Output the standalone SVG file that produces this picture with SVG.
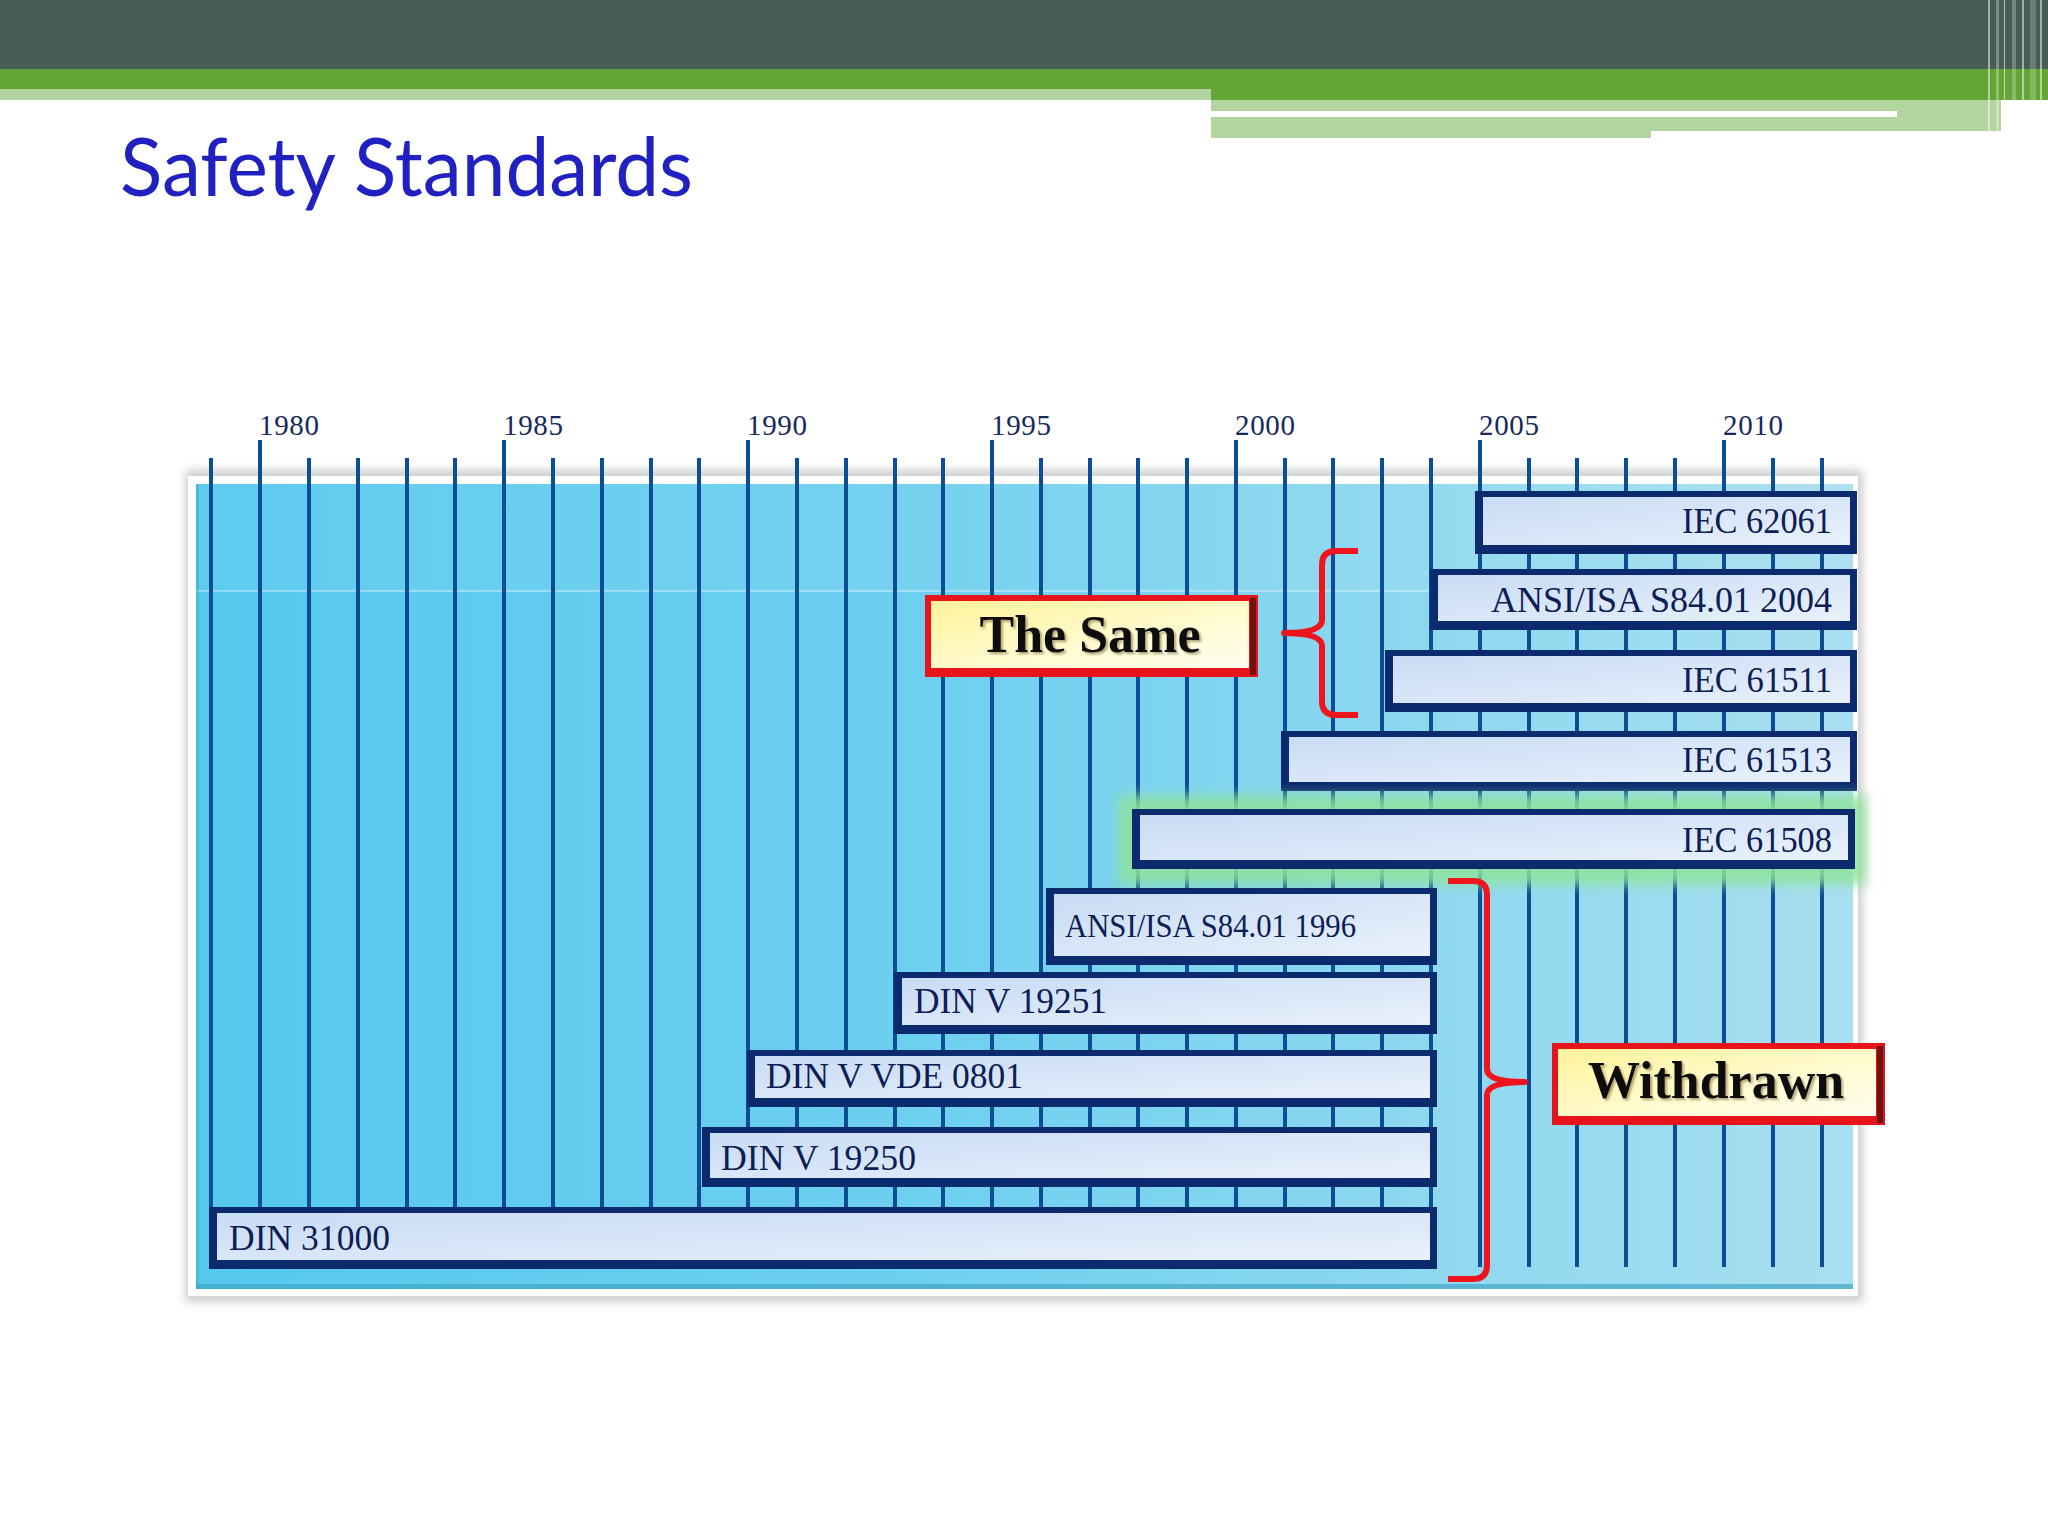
<svg xmlns="http://www.w3.org/2000/svg" width="2048" height="1536" viewBox="0 0 2048 1536">
<defs>
<style>
.yr{font-family:"Liberation Serif","DejaVu Serif",serif;font-size:29px;fill:#16295a}
.lbl{font-family:"Liberation Serif","DejaVu Serif",serif;font-size:35px;fill:#0d1d55}
.lbl2{font-family:"Liberation Serif","DejaVu Serif",serif;font-size:34px;fill:#0d1d55}
.call{font-family:"Liberation Serif","DejaVu Serif",serif;font-weight:bold;font-size:52px;fill:#111}
.tk{stroke:#0d4d94;stroke-width:4}
.bo{fill:#0c2b6e}
.bi{fill:url(#barFill)}
.brace{fill:none;stroke:#f0141c;stroke-width:6;stroke-linejoin:round;stroke-linecap:butt}
</style>
<linearGradient id="panelFill" x1="0" y1="0" x2="1" y2="0">
<stop offset="0" stop-color="#55c8ee"/>
<stop offset="0.45" stop-color="#6fd0ef"/>
<stop offset="1" stop-color="#a9dff0"/>
</linearGradient>
<linearGradient id="barFill" x1="0" y1="0" x2="1" y2="1">
<stop offset="0" stop-color="#c8dcf4"/>
<stop offset="0.6" stop-color="#dce8f9"/>
<stop offset="1" stop-color="#e9f1fc"/>
</linearGradient>
<linearGradient id="callFill" x1="0" y1="0" x2="1" y2="1">
<stop offset="0" stop-color="#fff39a"/>
<stop offset="0.6" stop-color="#fffbd2"/>
<stop offset="1" stop-color="#fffdf0"/>
</linearGradient>
<filter id="blur" x="-10%" y="-30%" width="120%" height="160%"><feGaussianBlur stdDeviation="6"/></filter>
<filter id="shadowBlur" x="-5%" y="-5%" width="110%" height="110%"><feGaussianBlur stdDeviation="4"/></filter>
<filter id="txtShadow" x="-5%" y="-20%" width="115%" height="150%"><feDropShadow dx="2" dy="2" stdDeviation="1" flood-color="#7a6a40" flood-opacity="0.6"/></filter>
</defs>

<g id="header">
<rect x="0" y="0" width="2048" height="69" fill="#465e54"/>
<rect x="0" y="69" width="2048" height="31" fill="#63a536"/>
<rect x="0" y="89" width="1211" height="11" fill="#b2d5a0"/>
<rect x="1211" y="100" width="790" height="38" fill="#b2d5a0"/>
<rect x="1211" y="111" width="686" height="6" fill="#ffffff"/>
<rect x="1651" y="131" width="357" height="7" fill="#ffffff"/>
<rect x="1988" y="0" width="2" height="138" fill="#ffffff" opacity="0.5"/>
<rect x="1996" y="0" width="3" height="138" fill="#ffffff" opacity="0.3"/>
<rect x="2004" y="0" width="1" height="138" fill="#ffffff" opacity="0.6"/>
<rect x="2012" y="0" width="4" height="138" fill="#ffffff" opacity="0.25"/>
<rect x="2022" y="0" width="2" height="138" fill="#ffffff" opacity="0.5"/>
<rect x="2030" y="0" width="6" height="138" fill="#ffffff" opacity="0.2"/>
<rect x="2040" y="0" width="2" height="138" fill="#ffffff" opacity="0.5"/>
</g>

<text id="title" x="120" y="196" font-family="Lato, 'Open Sans', sans-serif" font-size="82" fill="#2121c2" textLength="573" lengthAdjust="spacingAndGlyphs">Safety Standards</text>

<g id="panel">
<rect x="185" y="470" width="1678" height="832" fill="#cfcfcf" filter="url(#shadowBlur)"/>
<rect x="188" y="476" width="1670" height="820" fill="#ffffff"/>
<rect x="196" y="484" width="1657" height="805" fill="url(#panelFill)"/>
<rect x="196" y="484" width="1657" height="107" fill="#ffffff" opacity="0.06"/>
<line x1="196" y1="591" x2="1853" y2="591" stroke="#ffffff" stroke-width="1.5" opacity="0.45"/>
<rect x="196" y="1284" width="1657" height="5" fill="#3fa6c4" opacity="0.7"/>
<rect x="196" y="484" width="3" height="805" fill="#3fa6c4" opacity="0.5"/>
</g>

<g id="axis">
<g class="tk">
<line x1="211" y1="458" x2="211" y2="1267"/>
<line x1="260" y1="440" x2="260" y2="1267"/>
<line x1="309" y1="458" x2="309" y2="1267"/>
<line x1="358" y1="458" x2="358" y2="1267"/>
<line x1="407" y1="458" x2="407" y2="1267"/>
<line x1="455" y1="458" x2="455" y2="1267"/>
<line x1="504" y1="440" x2="504" y2="1267"/>
<line x1="553" y1="458" x2="553" y2="1267"/>
<line x1="602" y1="458" x2="602" y2="1267"/>
<line x1="651" y1="458" x2="651" y2="1267"/>
<line x1="699" y1="458" x2="699" y2="1267"/>
<line x1="748" y1="440" x2="748" y2="1267"/>
<line x1="797" y1="458" x2="797" y2="1267"/>
<line x1="846" y1="458" x2="846" y2="1267"/>
<line x1="895" y1="458" x2="895" y2="1267"/>
<line x1="943" y1="458" x2="943" y2="1267"/>
<line x1="992" y1="440" x2="992" y2="1267"/>
<line x1="1041" y1="458" x2="1041" y2="1267"/>
<line x1="1090" y1="458" x2="1090" y2="1267"/>
<line x1="1138" y1="458" x2="1138" y2="1267"/>
<line x1="1187" y1="458" x2="1187" y2="1267"/>
<line x1="1236" y1="440" x2="1236" y2="1267"/>
<line x1="1285" y1="458" x2="1285" y2="1267"/>
<line x1="1333" y1="458" x2="1333" y2="1267"/>
<line x1="1382" y1="458" x2="1382" y2="1267"/>
<line x1="1431" y1="458" x2="1431" y2="1267"/>
<line x1="1480" y1="440" x2="1480" y2="1267"/>
<line x1="1529" y1="458" x2="1529" y2="1267"/>
<line x1="1577" y1="458" x2="1577" y2="1267"/>
<line x1="1626" y1="458" x2="1626" y2="1267"/>
<line x1="1675" y1="458" x2="1675" y2="1267"/>
<line x1="1724" y1="440" x2="1724" y2="1267"/>
<line x1="1773" y1="458" x2="1773" y2="1267"/>
<line x1="1822" y1="458" x2="1822" y2="1267"/>
</g>
<text class="yr" x="259" y="435" textLength="60">1980</text>
<text class="yr" x="503" y="435" textLength="60">1985</text>
<text class="yr" x="747" y="435" textLength="60">1990</text>
<text class="yr" x="991" y="435" textLength="60">1995</text>
<text class="yr" x="1235" y="435" textLength="60">2000</text>
<text class="yr" x="1479" y="435" textLength="60">2005</text>
<text class="yr" x="1723" y="435" textLength="60">2010</text>
</g>

<g id="iec62061">
<rect class="bo" x="1475" y="491" width="382" height="63"/>
<rect class="bi" x="1483" y="497" width="367" height="48"/>
<text class="lbl" x="1682" y="533" textLength="150" lengthAdjust="spacingAndGlyphs">IEC 62061</text>
</g>
<g id="ansi2004">
<rect class="bo" x="1430" y="569" width="427" height="61"/>
<rect class="bi" x="1438" y="575" width="412" height="46"/>
<text class="lbl" x="1491" y="612" textLength="341" lengthAdjust="spacingAndGlyphs">ANSI/ISA S84.01 2004</text>
</g>
<g id="iec61511">
<rect class="bo" x="1385" y="650" width="472" height="62"/>
<rect class="bi" x="1393" y="656" width="457" height="47"/>
<text class="lbl" x="1682" y="692" textLength="150" lengthAdjust="spacingAndGlyphs">IEC 61511</text>
</g>
<g id="iec61513">
<rect class="bo" x="1281" y="731" width="576" height="60"/>
<rect class="bi" x="1289" y="737" width="561" height="45"/>
<text class="lbl" x="1682" y="772" textLength="150" lengthAdjust="spacingAndGlyphs">IEC 61513</text>
</g>
<g id="iec61508">
<rect x="1118" y="795" width="748" height="90" fill="#8fe39c" opacity="0.85" filter="url(#blur)"/>
<rect class="bo" x="1132" y="809" width="723" height="60"/>
<rect class="bi" x="1140" y="815" width="708" height="45"/>
<text class="lbl" x="1682" y="852" textLength="150" lengthAdjust="spacingAndGlyphs">IEC 61508</text>
</g>
<g id="ansi1996">
<rect class="bo" x="1046" y="888" width="391" height="77"/>
<rect class="bi" x="1054" y="894" width="376" height="62"/>
<text class="lbl2" x="1065" y="937" textLength="291" lengthAdjust="spacingAndGlyphs">ANSI/ISA S84.01 1996</text>
</g>
<g id="dinv19251">
<rect class="bo" x="894" y="972" width="543" height="62"/>
<rect class="bi" x="902" y="978" width="528" height="47"/>
<text class="lbl" x="914" y="1013" textLength="193" lengthAdjust="spacingAndGlyphs">DIN V 19251</text>
</g>
<g id="dinvvde0801">
<rect class="bo" x="747" y="1050" width="690" height="57"/>
<rect class="bi" x="755" y="1056" width="675" height="42"/>
<text class="lbl" x="766" y="1088" textLength="257" lengthAdjust="spacingAndGlyphs">DIN V VDE 0801</text>
</g>
<g id="dinv19250">
<rect class="bo" x="702" y="1127" width="735" height="60"/>
<rect class="bi" x="710" y="1133" width="720" height="45"/>
<text class="lbl" x="721" y="1170" textLength="195" lengthAdjust="spacingAndGlyphs">DIN V 19250</text>
</g>
<g id="din31000">
<rect class="bo" x="209" y="1207" width="1228" height="62"/>
<rect class="bi" x="217" y="1213" width="1213" height="47"/>
<text class="lbl" x="229" y="1250" textLength="161" lengthAdjust="spacingAndGlyphs">DIN 31000</text>
</g>

<g id="the-same">
<rect x="925" y="595" width="333" height="82" fill="#e8141c"/>
<rect x="931" y="601" width="318" height="67" fill="url(#callFill)"/>
<rect x="1250" y="598" width="6" height="77" fill="#5a1010" opacity="0.85"/>
<text class="call" x="1090" y="652" text-anchor="middle" filter="url(#txtShadow)">The Same</text>
</g>
<g id="withdrawn">
<rect x="1552" y="1043" width="333" height="82" fill="#e8141c"/>
<rect x="1558" y="1049" width="318" height="67" fill="url(#callFill)"/>
<rect x="1877" y="1046" width="6" height="77" fill="#5a1010" opacity="0.85"/>
<text class="call" x="1716" y="1098" text-anchor="middle" filter="url(#txtShadow)">Withdrawn</text>
</g>

<g id="connectors">
<path class="brace" d="M1358,551 L1336,551 Q1322,551 1322,565 L1322,620 Q1322,633 1284,633 Q1322,633 1322,646 L1322,701 Q1322,715 1336,715 L1358,715"/>
<path class="brace" d="M1448,881 L1473,881 Q1487,881 1487,895 L1487,1069 Q1487,1082 1525,1082 Q1487,1082 1487,1095 L1487,1265 Q1487,1279 1473,1279 L1448,1279"/>
</g>
</svg>
